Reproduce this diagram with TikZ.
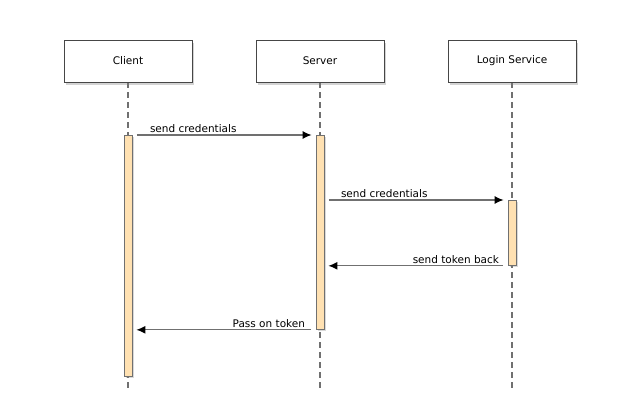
\documentclass[tikz,border=0pt]{standalone}
\usepackage{fontspec}
\setmainfont{DejaVu Sans}
\usepackage{tikz}
\usetikzlibrary{calc,shadows,arrows.meta}
\definecolor{linegray}{RGB}{112,112,112}
\definecolor{boxgray}{RGB}{70,70,70}
\definecolor{barfill}{RGB}{255,225,178}

\begin{document}
\begin{tikzpicture}[x=1pt,y=-1pt,
    actor/.style={draw=boxgray, fill=white, line width=0.8pt, minimum width=128pt, minimum height=42pt,
        font=\fontsize{10.5}{12}\selectfont,
        drop shadow={opacity=0.35, shadow xshift=2pt, shadow yshift=-3pt}},
    bar/.style={draw=linegray, fill=barfill, line width=0.8pt, minimum width=8pt, inner sep=0pt, anchor=north,
        drop shadow={opacity=0.3, shadow xshift=2pt, shadow yshift=-2pt}},
    lifeline/.style={draw=linegray, line width=1.4pt, dash pattern=on 6pt off 4pt},
    msg/.style={draw=linegray, line width=1.2pt, -{Latex[length=9pt,width=8pt,black]}, shorten <=4.5pt, shorten >=4pt},
    lbl/.style={font=\fontsize{10.5}{12}\selectfont, inner sep=2pt}]
						\useasboundingbox (0,0) rectangle (640,404);
						
						\coordinate (clientend) at (128,388);
						\coordinate (serverend) at (320,388);
						\coordinate (loginend) at (512,388);
						
						\draw[lifeline] (128,82) - - (clientend);
						\draw[lifeline] (320,82) - - (serverend);
						\draw[lifeline] (512,82) - - (loginend);
						
						\node[actor] (client) at (128,61) {Client};
						\node[actor] (server) at (320,61) {Server};
						\node[actor] (login) at (512,61) {Login Service};
						
						\node[bar, minimum height=241pt] (clientbar) at (128,135) {};
						\node[bar, minimum height=194pt] (serverbar) at (320,135) {};
						\node[bar, minimum height=65pt] (loginbar) at (512,200) {};
						
						\draw[msg] (clientbar.north east) - - (serverbar.north west)
						    node[lbl, pos=0, above right, xshift=15pt] {send credentials};
						\draw[msg] (serverbar.east |- loginbar.north) - - (loginbar.north west)
						    node[lbl, pos=0, above right, xshift=14pt] {send credentials};
						\draw[msg] (loginbar.south west) - - (serverbar.east |- loginbar.south)
						    node[lbl, pos=0, above left, xshift=-6pt] {send token back};
						\draw[msg] (serverbar.south west) - - (clientbar.east |- serverbar.south)
						    node[lbl, pos=0, above left, xshift=-8pt] {Pass on token};
					\end{tikzpicture}
\end{document}
